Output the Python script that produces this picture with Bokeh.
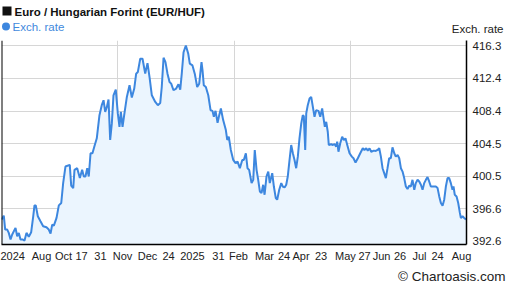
from bokeh.plotting import figure
from bokeh.layouts import column
from bokeh.models import Range1d, FixedTicker, Label, Span, BoxAnnotation
from bokeh.embed import file_html
from bokeh.resources import INLINE

# day offsets from start of the one-year window (late Aug 2024 .. late Aug 2025)
days = [0, 1.8, 2.9, 4.5, 5.7, 7.1, 8.4, 11.0, 12.3, 13.6, 14.9, 16.5, 18.1, 19.6, 21.4, 23.3,
        24.9, 25.9, 26.9, 28.5, 30.6, 32.7, 35.3, 37.1, 38.5, 39.8, 41.1, 43.2, 45.0, 46.9,
        48.4, 50.2, 53.6, 54.7, 56.3, 57.3, 59.4, 61.5, 63.3, 64.6, 65.9, 67.3, 68.5, 69.9,
        71.4, 73.0, 74.8, 76.9, 78.7, 80.1, 81.4, 82.7, 84.0, 85.3, 86.6, 87.9, 89.7, 91.3,
        92.6, 93.7, 95.0, 96.3, 98.4, 100.5, 102.3, 104.2, 105.7, 107.0, 108.9, 110.7, 112.8,
        114.6, 116.2, 118.0, 120.7, 122.7, 124.6, 125.8, 127.2, 128.7, 130.3, 131.9, 133.2,
        135.0, 137.1, 138.9, 140.3, 141.5, 142.9, 144.7, 146.6, 147.8, 149.9, 151.7, 153.6,
        155.2, 157.0, 157.8, 158.8, 160.4, 162.3, 164.1, 165.6, 166.7, 168.0, 169.6, 170.9,
        172.2, 174.0, 176.1, 177.2, 178.4, 180.0, 181.9, 183.7, 185.3, 187.1, 189.0, 190.2,
        191.8, 193.1, 194.4, 196.3, 197.6, 198.8, 200.2, 201.5, 202.8, 204.1, 205.4, 206.5,
        208.0, 209.4, 210.6, 212.5, 213.8, 215.3, 216.4, 218.0, 219.6, 220.8, 222.2, 223.5,
        224.7, 226.1, 227.4, 228.7, 230.0, 231.3, 232.6, 233.9, 235.3, 236.5, 237.3, 238.4,
        239.2, 240.4, 241.8, 243.1, 244.4, 245.7, 247.0, 248.8, 250.2, 251.7, 253.0, 253.8,
        254.9, 256.1, 256.9, 258.8, 260.1, 261.4, 262.7, 263.5, 264.5, 265.9, 267.4, 268.7,
        270.0, 271.4, 273.2, 275.0, 276.3, 277.9, 279.7, 281.6, 283.6, 284.9, 286.3, 287.5,
        288.9, 290.2, 292.3, 293.8, 295.2, 296.5, 297.8, 299.1, 300.4, 301.7, 303.0, 304.3,
        305.6, 306.9, 308.3, 309.5, 310.9, 312.2, 313.5, 314.8, 316.1, 317.4, 318.7, 320.0,
        321.3, 322.6, 324.0, 325.2, 326.6, 327.9, 329.2, 330.5, 331.8, 333.1, 334.4, 335.7,
        337.0, 338.3, 339.7, 340.9, 342.3, 343.6, 344.9, 346.2, 347.5, 348.8, 350.1, 351.4,
        352.7, 354.0, 354.8, 355.8, 357.2, 358.5, 359.8, 360.6, 361.9, 363.2, 364.6]

rates = [395.24, 395.72, 394.03, 394.03, 393.63, 392.83, 393.43, 394.24, 393.22, 393.63, 392.83,
         392.83, 392.70, 393.63, 393.15, 393.71, 395.64, 396.96, 396.96, 395.64, 395.03, 394.43,
         394.31, 394.03, 393.55, 394.63, 394.51, 395.44, 396.96, 397.25, 399.66, 401.67, 401.87,
         399.37, 399.06, 401.27, 401.47, 400.27, 401.27, 400.46, 400.46, 401.47, 400.46, 403.28,
         403.28, 404.16, 405.09, 407.90, 409.11, 409.71, 408.30, 408.90, 409.79, 404.89, 406.90,
         410.31, 411.00, 408.11, 406.49, 408.30, 406.49, 407.90, 410.11, 411.52, 410.04, 411.12,
         412.93, 413.12, 414.74, 414.74, 412.93, 414.21, 412.52, 410.31, 409.50, 409.11, 409.38,
         411.31, 414.86, 414.33, 412.93, 411.92, 411.72, 410.92, 411.12, 411.64, 411.00, 412.93,
         415.53, 416.35, 415.34, 414.14, 413.93, 412.93, 411.31, 411.72, 414.33, 413.33, 411.52,
         411.31, 410.31, 408.50, 408.42, 407.70, 408.42, 406.97, 407.90, 408.71, 407.30, 406.09,
         404.89, 405.28, 403.68, 402.47, 402.08, 402.27, 401.47, 402.47, 402.47, 403.28, 401.47,
         401.27, 399.66, 400.06, 403.68, 401.27, 400.06, 398.65, 398.46, 399.46, 398.25, 400.46,
         401.06, 399.66, 400.87, 399.25, 397.85, 397.65, 398.86, 399.66, 399.25, 399.13, 399.46,
         400.46, 402.47, 404.28, 403.28, 402.47, 401.47, 402.87, 405.09, 406.90, 407.90, 407.78,
         403.68, 408.11, 409.11, 409.91, 410.11, 408.90, 407.70, 408.50, 408.42, 407.70, 408.71,
         407.30, 406.49, 407.09, 405.89, 404.28, 404.37, 404.28, 404.40, 404.08, 404.68, 403.47,
         404.49, 405.28, 404.89, 405.09, 404.28, 403.28, 402.87, 402.68, 402.15, 402.68, 403.28,
         403.88, 403.68, 403.88, 403.60, 403.88, 403.47, 403.60, 403.56, 403.68, 403.88, 402.87,
         401.47, 400.87, 400.27, 401.47, 402.68, 402.68, 404.00, 403.28, 402.87, 403.08, 402.68,
         401.47, 401.06, 400.27, 399.25, 398.94, 399.34, 399.25, 400.06, 398.86, 399.66, 400.06,
         399.86, 399.46, 398.86, 399.66, 400.06, 400.39, 399.86, 399.25, 399.25, 399.25, 399.25,
         399.06, 398.05, 397.25, 396.93, 397.65, 399.25, 400.27, 400.27, 399.66, 398.86, 399.25,
         398.25, 398.05, 397.25, 396.05, 395.44, 395.64, 395.44, 395.24]

x_tick_days = [8.6, 31.4, 48.7, 62.8, 77.7, 95.0, 114.6, 131.1, 149.9, 170.3, 186.0,
               206.5, 221.8, 235.1, 250.8, 270.0, 285.0, 298.3, 312.8, 328.1, 342.3, 361.1]
x_tick_labels = ["2024", "Aug", "Oct", "17", "31", "Nov", "Dec", "24", "2025", "31", "Feb",
                 "Mar", "24", "Apr", "23", "May", "27", "Jun", "26", "Jul", "24", "Aug"]
quarter_days = [91.25, 182.5, 273.75]

y_ticks = [392.6, 396.55, 400.5, 404.45, 408.4, 412.35, 416.3]
y_tick_labels = ["392.6", "396.6", "400.5", "404.5", "408.4", "412.4", "416.3"]

title_text = "Euro / Hungarian Forint (EUR/HUF)"
series_name = "Exch. rate"
axis_title = "Exch. rate"
credit = "\u00a9 Chartoasis.com"

Y_MIN, Y_MAX = 392.22, 416.95
FONT = "Liberation Sans"
LINE_BLUE = "#3d87df"
W = 507
HEAD_H, MAIN_H, FOOT_H = 40, 224, 24


def blank(height):
    f = figure(width=W, height=height, output_backend="svg", toolbar_location=None,
               x_axis_location=None, y_axis_location=None,
               x_range=Range1d(0, W), y_range=Range1d(0, height),
               min_border=0, min_border_left=0, min_border_right=0,
               min_border_top=0, min_border_bottom=0)
    f.outline_line_color = None
    f.grid.visible = False
    return f


# ---------- header ----------
head = blank(HEAD_H)
SB = dict(left_units="screen", right_units="screen", bottom_units="screen", top_units="screen")
SU = dict(x_units="screen", y_units="screen")
head.add_layout(BoxAnnotation(left=2, right=11, top=HEAD_H - 6, bottom=HEAD_H - 15, **SB,
                              fill_color="#111111", fill_alpha=1, line_color=None))
head.add_layout(Label(x=14, y=HEAD_H - 11, **SU, text=title_text,
                      text_font=FONT, text_font_style="bold", text_font_size="11.5px",
                      text_color="#111111", text_baseline="middle"))
head.add_layout(BoxAnnotation(left=1.5, right=9.5, top=HEAD_H - 22, bottom=HEAD_H - 30, **SB,
                              fill_color=LINE_BLUE, fill_alpha=1, line_color=None,
                              border_radius=4))
head.add_layout(Label(x=12, y=HEAD_H - 26, **SU, text=series_name,
                      text_font=FONT, text_font_size="11.5px", text_color="#3f89dd",
                      text_baseline="middle"))
head.add_layout(Label(x=503, y=HEAD_H - 28.5, **SU, text=axis_title,
                      text_font=FONT, text_font_size="11.5px", text_color="#222222",
                      text_baseline="middle", text_align="right"))

# ---------- main chart ----------
p = figure(width=W, height=MAIN_H, output_backend="svg", toolbar_location=None,
           x_range=Range1d(0, 365), y_range=Range1d(Y_MIN, Y_MAX),
           y_axis_location="right",
           min_border_left=1, min_border_right=41, min_border_top=0, min_border_bottom=19)
p.outline_line_color = None

p.varea(x=days, y1=[Y_MIN] * len(days), y2=rates, fill_color="#ebf5fe")
p.line(days, rates, line_color=LINE_BLUE, line_width=2)

for ax in (p.xaxis[0], p.yaxis[0]):
    ax.major_tick_line_color = None
    ax.minor_tick_line_color = None
    ax.major_tick_out = 0
    ax.major_tick_in = 0
    ax.minor_tick_out = 0
    ax.minor_tick_in = 0
    ax.axis_line_color = "black"
    ax.axis_line_width = 1.5
    ax.major_label_text_font = FONT
    ax.major_label_text_color = "#222222"

xa = p.xaxis[0]
xa.ticker = FixedTicker(ticks=x_tick_days)
xa.major_label_overrides = {d: l for d, l in zip(x_tick_days, x_tick_labels)}
xa.major_label_text_font_size = "11px"
xa.major_label_standoff = 5

ya = p.yaxis[0]
ya.ticker = FixedTicker(ticks=y_ticks)
ya.major_label_overrides = {v: l for v, l in zip(y_ticks, y_tick_labels)}
ya.major_label_text_font_size = "11.5px"
ya.major_label_standoff = 6

p.xgrid.ticker = FixedTicker(ticks=quarter_days)
p.xgrid.grid_line_color = "#d6d6d6"
p.ygrid.ticker = FixedTicker(ticks=y_ticks)
p.ygrid.grid_line_color = "#d6d6d6"

p.add_layout(Span(location=0, dimension="height", line_color="black", line_width=2))

# ---------- footer ----------
foot = blank(FOOT_H)
foot.add_layout(Label(x=505, y=FOOT_H - 12, **SU, text=credit,
                      text_font=FONT, text_font_size="13.5px", text_color="#222222",
                      text_baseline="middle", text_align="right"))

# keep each figure's frame independent (no cross-figure frame alignment)
for f in (head, p, foot):
    try:
        f.frame_align = False
    except Exception:
        pass

layout = column(head, p, foot, spacing=0)
open("out.html", "w").write(file_html(layout, INLINE))
